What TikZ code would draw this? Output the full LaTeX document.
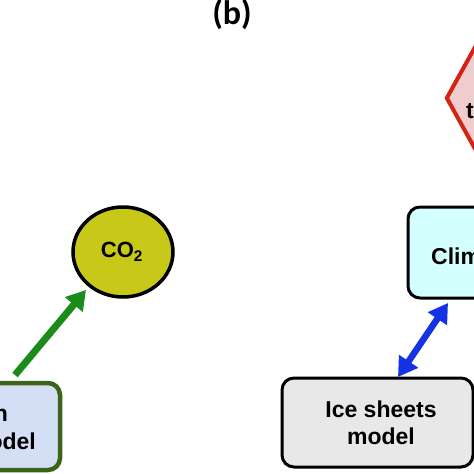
\documentclass[tikz,border=0pt]{standalone}
\usepackage{fontspec}
\setmainfont{Liberation Sans}
\newfontfamily\labfont{Carlito}
\usetikzlibrary{shapes.geometric,arrows.meta}
\definecolor{co2fill}{RGB}{200,200,25}
\definecolor{garrow}{RGB}{25,140,25}
\definecolor{gborder}{RGB}{60,100,25}
\definecolor{gfill}{RGB}{212,222,245}
\definecolor{cfill}{RGB}{212,255,255}
\definecolor{ifill}{RGB}{232,232,232}
\definecolor{barrow}{RGB}{20,50,230}
\definecolor{dborder}{RGB}{210,35,20}
\definecolor{dfill}{RGB}{240,205,205}
\tikzset{
  txt/.style={font=\bfseries\fontsize{23}{27}\selectfont, inner sep=0pt},
  modelbox/.style={draw, rectangle, rounded corners=12pt, line width=3pt, inner sep=0pt},
  bigarrow/.style={line width=7pt, -{Triangle[length=19pt,width=22pt]}},
  dblarrow/.style={line width=6.5pt, {Triangle[length=19pt,width=22pt]}-{Triangle[length=19pt,width=22pt]}},
}
\begin{document}
\begin{tikzpicture}[x=1pt,y=-1pt]
\useasboundingbox (0,0) rectangle (474,474);
\clip (0,0) rectangle (474,474);
\fill[white] (0,0) rectangle (474,474);
% title
\node[anchor=base, inner sep=0pt, font=\labfont\bfseries\fontsize{34}{36}\selectfont] (title) at (232,24) {(b)};
% diamond
\node[draw=dborder, fill=dfill, line width=4pt, diamond, minimum width=96pt, minimum height=172pt, inner sep=0pt] (dia) at (494,98) {};
\node[txt, anchor=west] (diatxt) at (466,111) {t};
% CO2
\node[draw, fill=co2fill, ellipse, line width=3.5pt, minimum width=100pt, minimum height=90pt, inner sep=0pt] (co2) at (123,252) {};
\node[txt, font=\bfseries\fontsize{22}{26}\selectfont] (co2txt) at (122,252) {CO\textsubscript{2}};
% carbon box (partially visible)
\node[modelbox, draw=gborder, fill=gfill, line width=4.5pt, minimum width=190pt, minimum height=87pt] (carb) at (-35,426.5) {};
\node[txt, anchor=east] (carb1) at (8,415) {n};
\node[txt, anchor=east] (carb2) at (36,441) {odel};
% climate box
\node[modelbox, fill=cfill, minimum width=190pt, minimum height=91pt] (clim) at (503,252.5) {};
\node[txt, anchor=west] (climtxt) at (431,256) {Clim};
% ice box
\node[modelbox, fill=ifill, minimum width=191pt, minimum height=89pt] (ice) at (377.5,422.5) {};
\node[txt, align=center] (icetxt) at (381,423) {Ice sheets\\model};
% arrows
\coordinate (gs) at (15,375);
\coordinate (gt) at (86,290);
\draw[garrow, bigarrow] (gs) -- (gt);
\coordinate (bs) at (398,377);
\coordinate (bt) at (448,303);
\draw[barrow, dblarrow] (bs) -- (bt);
\end{tikzpicture}
\end{document}
